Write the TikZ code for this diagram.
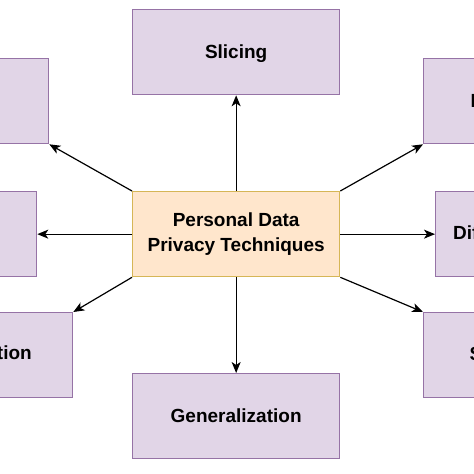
\documentclass[tikz,border=0pt]{standalone}
\usepackage{fontspec}
\setmainfont{Liberation Sans}
\usetikzlibrary{arrows.meta}
\definecolor{pfill}{HTML}{E1D5E7}
\definecolor{pdraw}{HTML}{9673A6}
\definecolor{ofill}{HTML}{FFE6CC}
\definecolor{odraw}{HTML}{D6B656}
\tikzset{
  tbox/.style={draw=pdraw, fill=pfill, line width=1.3pt, minimum width=207pt, minimum height=85pt, inner sep=0pt, anchor=north west},
  cbox/.style={draw=odraw, fill=ofill, line width=1.3pt, minimum width=207pt, minimum height=85pt, inner sep=0pt, anchor=north west, align=center},
  lbl/.style={font=\fontsize{19}{24.5}\selectfont\bfseries, text=black, inner sep=0pt},
  conn/.style={draw=black, line width=1.2pt, -{Stealth[length=11pt,width=9pt,inset=3pt]}}
}
\begin{document}
\begin{tikzpicture}[x=1pt,y=-1pt]
\useasboundingbox (0,0) rectangle (474,474);
\fill[white] (0,0) rectangle (474,474);
\clip (0,0) rectangle (474,474);
% boxes
\node[tbox] (sl) at (132,9) {};
\node[tbox] (ge) at (132,373) {};
\node[tbox] (tl) at (-159,58) {};
\node[tbox] (ml) at (-171,191) {};
\node[tbox] (bl) at (-135,312) {};
\node[tbox] (tr) at (423,58) {};
\node[tbox] (mr) at (435,191) {};
\node[tbox] (br) at (423,312) {};
\node[cbox, lbl, minimum width=207pt, minimum height=85pt] (c) at (132,191) {Personal Data\\Privacy Techniques};
% labels
\node[lbl] (slt) at ([yshift=-1.5pt]sl.center) {Slicing};
\node[lbl] (get) at (ge.center) {Generalization};
\node[lbl, anchor=east] (blt) at (32,354.5) {Anonymization};
\node[lbl] (trt) at (tr.center) {Perturbation};
\node[lbl] (mrt) at (mr.center) {Differential Privacy};
\node[lbl] (brt) at (br.center) {Suppression};
% connectors
\draw[conn] (c.north) -- (sl.south);
\draw[conn] (c.south) -- (ge.north);
\draw[conn] (c.west) -- (ml.east);
\draw[conn] (c.east) -- (mr.west);
\draw[conn] (c.north west) -- (tl.south east);
\draw[conn] (c.north east) -- (tr.south west);
\draw[conn] (c.south west) -- (bl.north east);
\draw[conn] (c.south east) -- (br.north west);
\end{tikzpicture}
\end{document}
